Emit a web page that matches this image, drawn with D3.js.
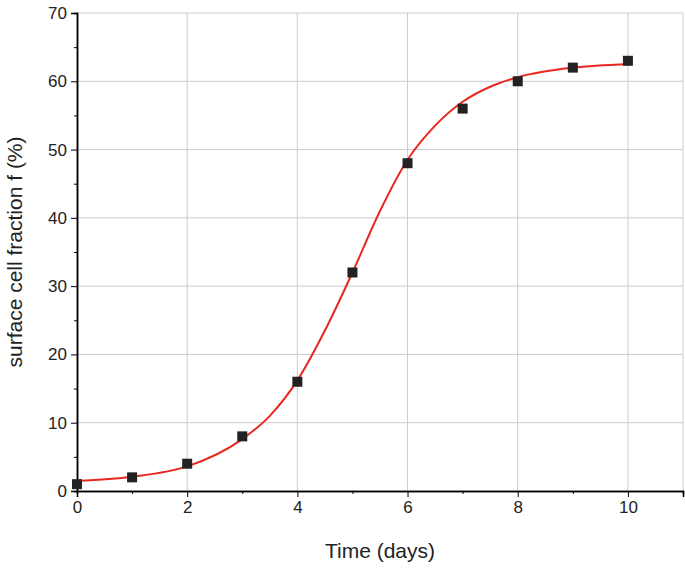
<!DOCTYPE html>
<html><head><meta charset="utf-8">
<script src="https://cdn.jsdelivr.net/npm/d3@7"></script>
<style>body{margin:0;background:#fff}</style>
</head><body>
<svg id="chart"></svg>
<script>
// Measured points
const days = [0, 1, 2, 3, 4, 5, 6, 7, 8, 9, 10];
const fraction = [1, 2, 4, 8, 16, 32, 48, 56, 60, 62, 63];
// Fitted curve
const fitX = [0, 1, 2, 3, 3.5, 4, 4.5, 5, 5.5, 6, 6.5, 7, 7.5, 8, 9, 10];
const fitY = [1.5, 2.1, 3.6, 7.6, 11, 16.2, 23.5, 32, 41, 48.5, 53.5, 57, 59.2, 60.6, 62, 62.5];
const xTicks = [0, 2, 4, 6, 8, 10];
const yTicks = [0, 10, 20, 30, 40, 50, 60, 70];

const margin = { top: 13, right: 2, bottom: 77, left: 77 };
const W = 685, H = 568;
const width = W - margin.left - margin.right;
const height = H - margin.top - margin.bottom;

const x = d3.scaleLinear().domain([0, 11]).range([0, width]);
const y = d3.scaleLinear().domain([0, 70]).range([height, 0]);

const svg = d3.select("#chart").attr("width", W).attr("height", H)
  .append("g").attr("transform", "translate(" + margin.left + "," + margin.top + ")");

// grid
svg.append("g").selectAll("line").data(xTicks.filter(d => d > 0)).join("line")
  .attr("x1", d => x(d)).attr("x2", d => x(d)).attr("y1", 0).attr("y2", height)
  .attr("stroke", "#cccccc");
svg.append("g").selectAll("line").data(yTicks.filter(d => d > 0)).join("line")
  .attr("x1", 0).attr("x2", width).attr("y1", d => y(d)).attr("y2", d => y(d))
  .attr("stroke", "#cccccc");
svg.append("line").attr("x1", width).attr("x2", width).attr("y1", 0).attr("y2", height).attr("stroke", "#cccccc");

// axes
const xAxis = svg.append("g").attr("transform", "translate(0," + height + ")")
  .call(d3.axisBottom(x).tickValues(xTicks).tickSize(6).tickPadding(4));
svg.append("g").attr("transform", "translate(0," + height + ")")
  .call(d3.axisBottom(x).tickValues(d3.range(1, 12, 2)).tickSize(3).tickFormat(""));
const yAxis = svg.append("g").call(d3.axisLeft(y).tickValues(yTicks).tickSize(6).tickPadding(4));
svg.append("g").call(d3.axisLeft(y).tickValues(d3.range(5, 70, 10)).tickSize(3).tickFormat(""));
svg.selectAll(".domain").attr("stroke", "#000").attr("stroke-width", 1.5);
svg.selectAll(".tick line").attr("stroke", "#000");
svg.selectAll(".tick text").attr("font-family", "Arial, Liberation Sans, sans-serif")
  .attr("font-size", 17).attr("fill", "#222");

// fit line
const line = d3.line().x((d, i) => x(fitX[i])).y(d => y(d)).curve(d3.curveMonotoneX);
svg.append("path").datum(fitY).attr("d", line)
  .attr("fill", "none").attr("stroke", "#e8281e").attr("stroke-width", 2);

// points
svg.append("g").selectAll("rect").data(days).join("rect")
  .attr("x", (d) => x(d) - 5).attr("y", (d, i) => y(fraction[i]) - 5)
  .attr("width", 10).attr("height", 10).attr("fill", "#222");

// labels
svg.append("text").attr("x", x(5.5)).attr("y", height + 67).attr("text-anchor", "middle")
  .attr("font-family", "Arial, Liberation Sans, sans-serif").attr("font-size", 21).attr("fill", "#222")
  .text("Time (days)");
svg.append("text").attr("transform", "rotate(-90)").attr("x", -height / 2).attr("y", -55)
  .attr("text-anchor", "middle")
  .attr("font-family", "Arial, Liberation Sans, sans-serif").attr("font-size", 21).attr("fill", "#222")
  .text("surface cell fraction f (%)");
</script>
</body></html>
